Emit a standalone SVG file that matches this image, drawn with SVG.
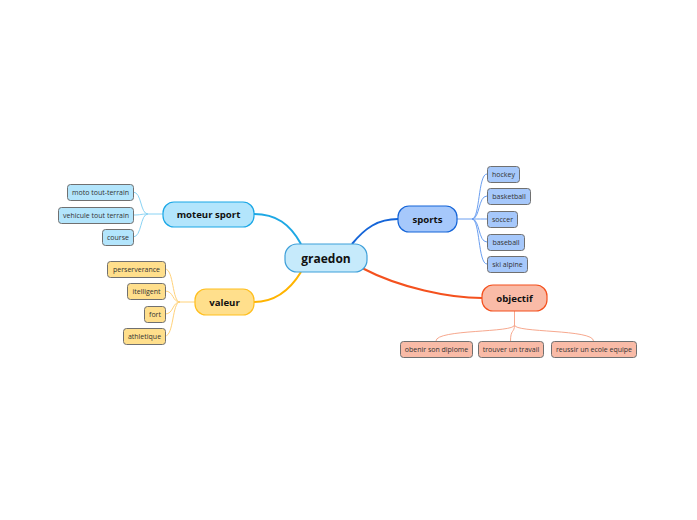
<svg xmlns="http://www.w3.org/2000/svg" width="697" height="520" viewBox="0 0 697 520">
<style>
text{font-family:"Open Sans","Noto Sans","Liberation Sans",sans-serif;text-anchor:middle;dominant-baseline:central;}
.main{font-size:12px;font-weight:bold;fill:#111;}
.br{font-size:9.6px;font-weight:bold;fill:#111;}
.leaf{font-size:7px;fill:#333;}
.lf{stroke:#707070;stroke-width:1;}
.c{fill:none;}
.b{stroke-width:1.2;}
.blue{fill:#b3e5fc;}
.yel{fill:#ffdf8c;}
.sb{fill:#a6c8fb;}
.or{fill:#f9bba7;}
</style>
<rect width="697" height="520" fill="#fff"/>
<g id="connectors" class="c">
<path d="M301,244 C290,224 276,214 254,214" stroke="#1ea8e4" stroke-width="2"/>
<path d="M301,272 C290,290 276,302 254,302" stroke="#ffb400" stroke-width="2"/>
<path d="M352,244 C365,228 378,219 398,219" stroke="#1565d8" stroke-width="2"/>
<path d="M362,268 C400,288 450,298 482,298" stroke="#f4511e" stroke-width="2"/>
<g stroke="#8ad3f4" stroke-width="1">
<path d="M163,214 L148,214"/>
<path d="M148,214 C140,214 142,192 133,192"/>
<path d="M148,214 C140,214 142,215 133,215"/>
<path d="M148,214 C140,214 142,237 133,237"/>
</g>
<g stroke="#ffd27a" stroke-width="1">
<path d="M195,302 L180,302"/>
<path d="M180,302 C172,302 174,269 165,269"/>
<path d="M180,302 C172,302 174,291 165,291"/>
<path d="M180,302 C172,302 174,314 165,314"/>
<path d="M180,302 C172,302 174,336 165,336"/>
</g>
<g stroke="#6a9ef0" stroke-width="1">
<path d="M457,219 L472,219"/>
<path d="M472,219 C480,219 478,174 487,174"/>
<path d="M472,219 C480,219 478,196 487,196"/>
<path d="M472,219 C480,219 478,219 487,219"/>
<path d="M472,219 C480,219 478,242 487,242"/>
<path d="M472,219 C480,219 478,264 487,264"/>
</g>
<g stroke="#f7a88e" stroke-width="1">
<path d="M514.5,311 L514.5,325"/>
<path d="M514.5,325 C514.5,333 436,329 436,341"/>
<path d="M514.5,325 C514.5,333 510.5,329 510.5,341"/>
<path d="M514.5,325 C514.5,333 593.5,329 593.5,341"/>
</g>
</g>
<g id="graedon">
<rect x="285" y="244" width="82" height="28" rx="12" fill="#c6eafb" stroke="#3d9fd9" stroke-width="1.2"/>
<text class="main" x="326" y="258.5">graedon</text>
</g>
<g id="moteur-sport">
<rect x="163" y="202" width="91" height="25" rx="11" class="blue b" stroke="#1aa7e6"/>
<text class="br" x="208.5" y="214.5">moteur sport</text>
</g>
<g id="valeur">
<rect x="195" y="289" width="59" height="26" rx="11" class="yel b" stroke="#ffbf1f"/>
<text class="br" x="224.5" y="302">valeur</text>
</g>
<g id="sports">
<rect x="398" y="206" width="59" height="26" rx="11" class="sb b" stroke="#1565d8"/>
<text class="br" x="427.5" y="219">sports</text>
</g>
<g id="objectif">
<rect x="482" y="285" width="65" height="26" rx="11" class="or b" stroke="#f4511e"/>
<text class="br" x="514.5" y="298">objectif</text>
</g>
<g id="moto-tout-terrain"><rect x="67.5" y="184.5" width="66" height="16" rx="3" class="blue lf"/><text class="leaf" x="100.5" y="192.5">moto tout-terrain</text></g>
<g id="vehicule-tout-terrain"><rect x="58.5" y="207.5" width="75" height="16" rx="3" class="blue lf"/><text class="leaf" x="96" y="215.5">vehicule tout terrain</text></g>
<g id="course"><rect x="102.5" y="229.5" width="31" height="16" rx="3" class="blue lf"/><text class="leaf" x="118" y="237.5">course</text></g>
<g id="perserverance"><rect x="107.5" y="261.5" width="58" height="16" rx="3" class="yel lf"/><text class="leaf" x="136.5" y="269.5">perserverance</text></g>
<g id="itelligent"><rect x="127.5" y="283.5" width="38" height="16" rx="3" class="yel lf"/><text class="leaf" x="146.5" y="291.5">itelligent</text></g>
<g id="fort"><rect x="144.5" y="306.5" width="21" height="16" rx="3" class="yel lf"/><text class="leaf" x="155" y="314.5">fort</text></g>
<g id="athletique"><rect x="123.5" y="328.5" width="42" height="16" rx="3" class="yel lf"/><text class="leaf" x="144.5" y="336.5">athletique</text></g>
<g id="hockey"><rect x="487.5" y="166.5" width="32" height="16" rx="3" class="sb lf"/><text class="leaf" x="503.5" y="174.5">hockey</text></g>
<g id="basketball"><rect x="487.5" y="188.5" width="43" height="16" rx="3" class="sb lf"/><text class="leaf" x="509" y="196.5">basketball</text></g>
<g id="soccer"><rect x="487.5" y="211.5" width="30" height="16" rx="3" class="sb lf"/><text class="leaf" x="502.5" y="219.5">soccer</text></g>
<g id="baseball"><rect x="487.5" y="234.5" width="37" height="16" rx="3" class="sb lf"/><text class="leaf" x="506" y="242.5">baseball</text></g>
<g id="ski-alpine"><rect x="487.5" y="256.5" width="40" height="16" rx="3" class="sb lf"/><text class="leaf" x="507.5" y="264.5">ski alpine</text></g>
<g id="obenir-son-diplome"><rect x="400.5" y="341.5" width="72" height="16" rx="3" class="or lf"/><text class="leaf" x="436.5" y="349.5">obenir son diplome</text></g>
<g id="trouver-un-travail"><rect x="478.5" y="341.5" width="65" height="16" rx="3" class="or lf"/><text class="leaf" x="511" y="349.5">trouver un travail</text></g>
<g id="reussir-un-ecole-equipe"><rect x="551.5" y="341.5" width="85" height="16" rx="3" class="or lf"/><text class="leaf" x="594" y="349.5">reussir un ecole equipe</text></g>
</svg>
